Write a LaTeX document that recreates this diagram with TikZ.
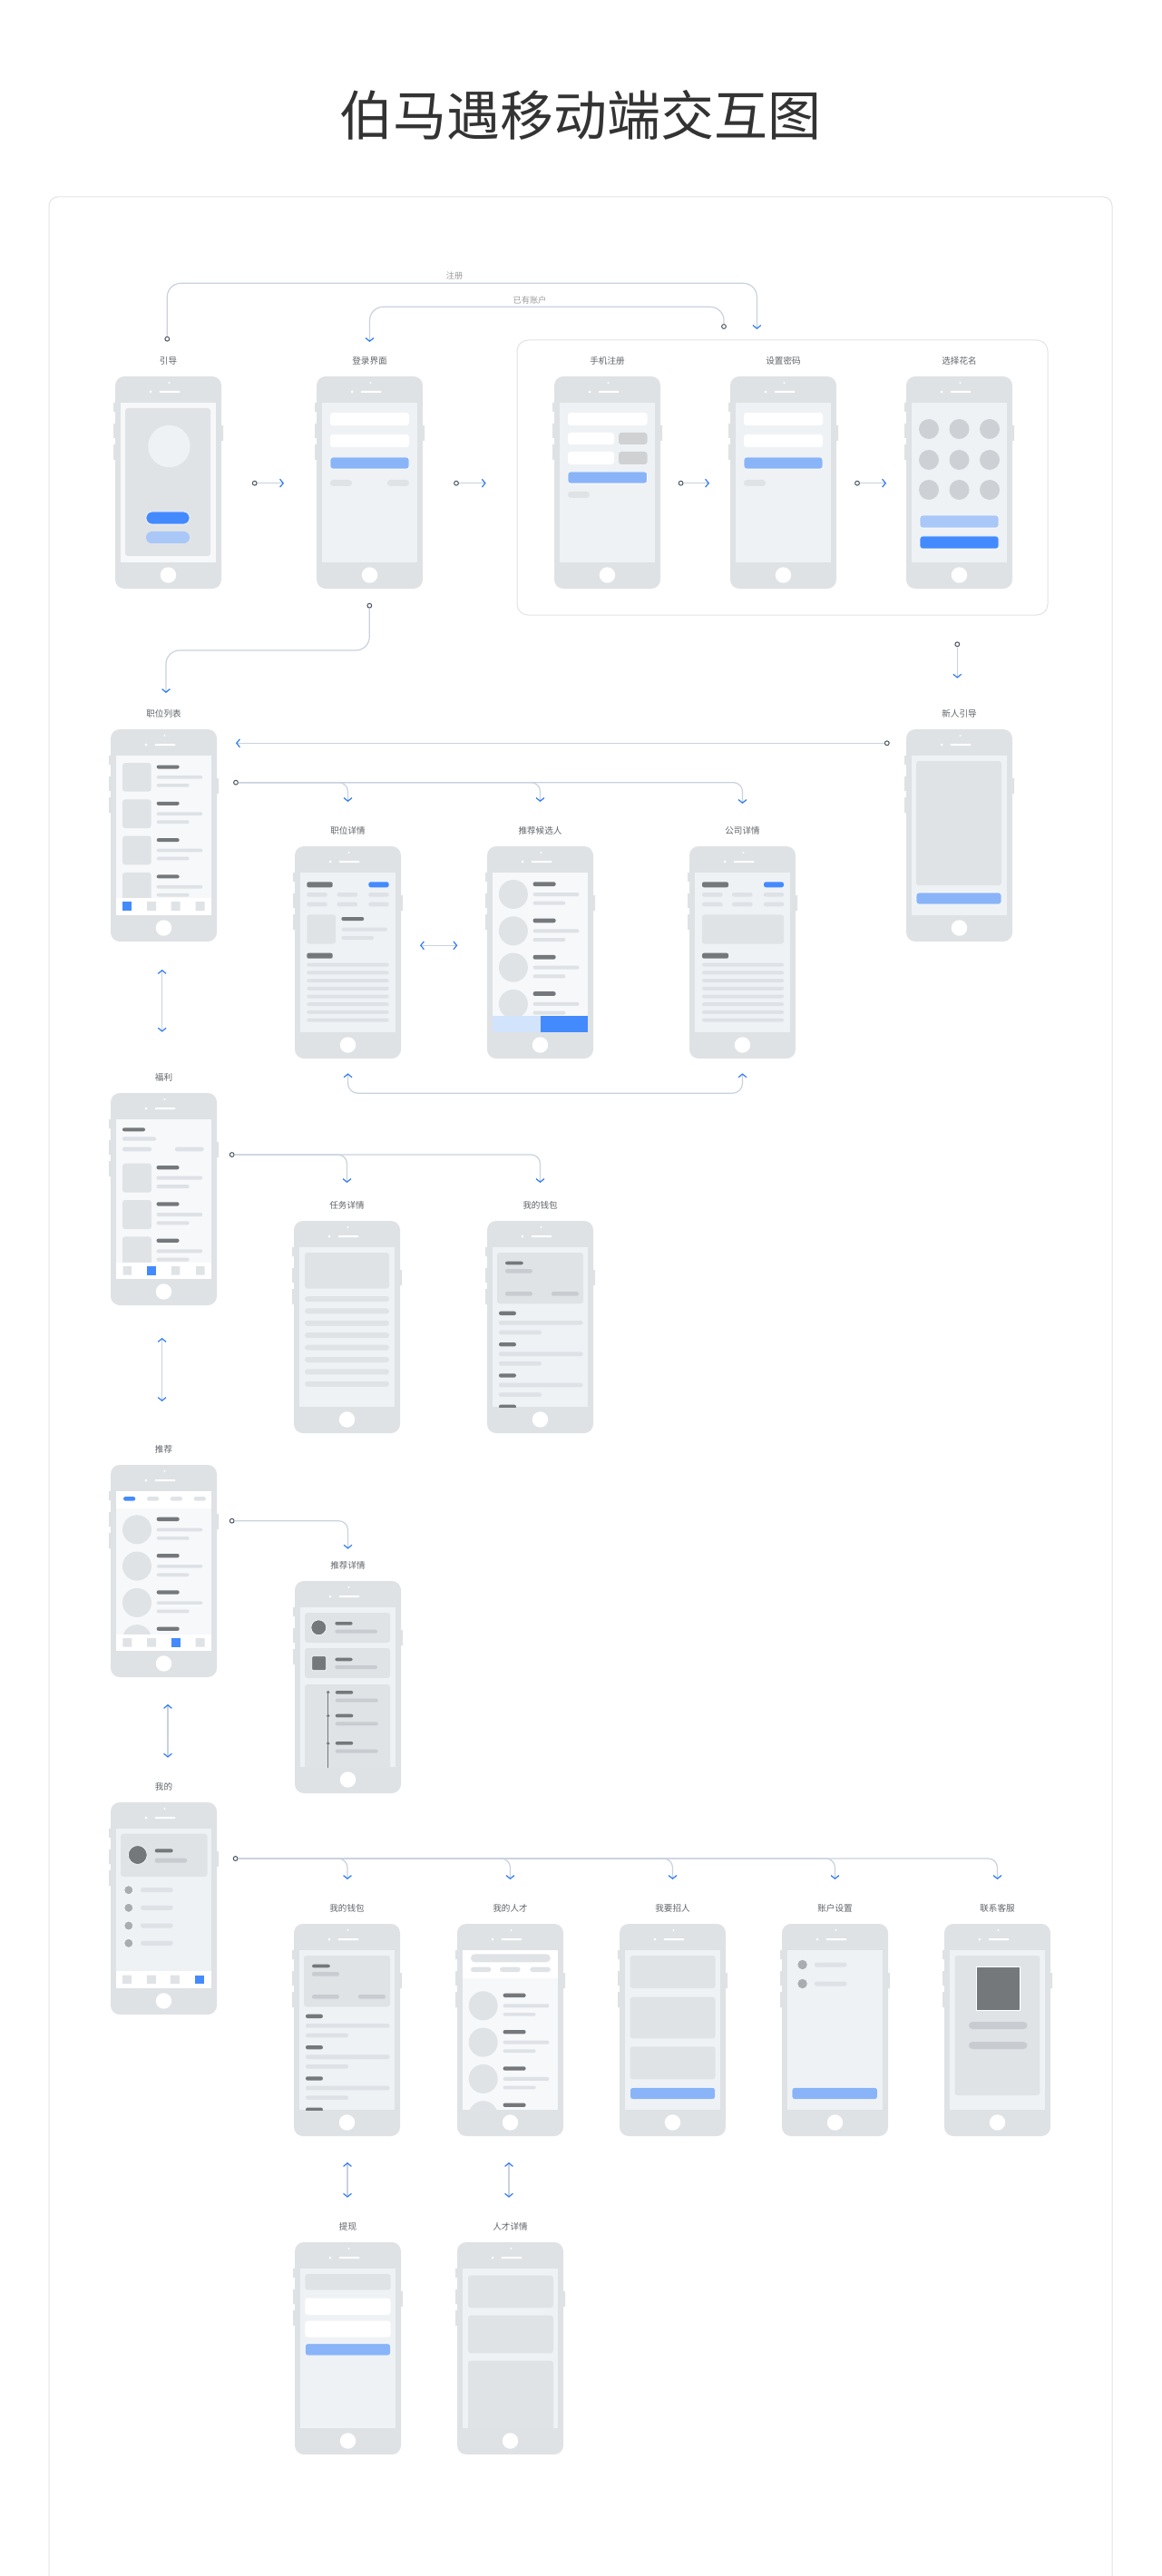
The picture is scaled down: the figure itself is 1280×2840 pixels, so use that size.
\documentclass[tikz,border=0pt]{standalone}
\usepackage{fontspec}
\newfontfamily\cjk{Noto Sans CJK SC}
\usetikzlibrary{arrows.meta,calc}
\definecolor{cbody}{HTML}{DFE2E5}
\definecolor{cscr}{HTML}{EFF2F5}
\definecolor{cscrl}{HTML}{F6F8FA}
\definecolor{ccard}{HTML}{E0E3E6}
\definecolor{cdk}{HTML}{75787B}
\definecolor{clt}{HTML}{DEE1E5}
\definecolor{cmd}{HTML}{C8CBCF}
\definecolor{cgc}{HTML}{CDD0D4}
\definecolor{cmc}{HTML}{A9ACB0}
\definecolor{cblue}{HTML}{448AFF}
\definecolor{cbb}{HTML}{8AB4F8}
\definecolor{clb}{HTML}{A9C7F7}
\definecolor{cpb}{HTML}{D2E3FC}
\definecolor{cline}{HTML}{C9D2DE}
\definecolor{cdot}{HTML}{4B5563}
\definecolor{carrow}{HTML}{2F7CF6}
\definecolor{clabel}{HTML}{5F6368}
\definecolor{cclab}{HTML}{9A9A9A}
\definecolor{cframe}{HTML}{E3E3E3}
\definecolor{cfield}{HTML}{CFD1D3}
\definecolor{ctitle}{HTML}{333333}
\tikzset{
  phonebody/.style={rectangle, fill=cbody, minimum width=58.5pt, minimum height=117pt, rounded corners=5pt, inner sep=0pt, outer sep=0pt},
  phlabel/.style={font=\cjk\fontsize{4.8pt}{5.5pt}\selectfont, text=clabel, inner sep=0pt},
  clab/.style={font=\cjk\fontsize{4.6pt}{5.5pt}\selectfont, text=cclab, inner sep=0pt},
  dkp/.style={fill=cdk, rounded corners=1pt},
  ltp/.style={fill=clt, rounded corners=1pt},
  mdp/.style={fill=cmd, rounded corners=1pt},
  card/.style={fill=ccard, rounded corners=1.5pt},
  wf/.style={fill=white, rounded corners=1.5pt},
  bb/.style={fill=cbb, draw=white, line width=0.3pt, rounded corners=1.5pt},
  conn/.style={draw=cline, line width=0.6pt, rounded corners=5pt},
  dotn/.style={circle, draw=cdot, fill=white, line width=0.5pt, minimum size=2.4pt, inner sep=0pt},
}
\newcommand\mkphone[6]{%
\begin{scope}[shift={(#2,#3)}]
\fill[cbody] (-2,29) rectangle (1,39) (-2,52) rectangle (1,68) (-2,75) rectangle (1,92) (116,54) rectangle (119,71);
\node[phonebody] (#1) at (58.5,117) {};
\fill[#4] (6,29) rectangle (111,205);
\begin{scope}\clip (6,29) rectangle (111,205);
#6
\end{scope}
\fill[white] (59.5,7) circle (0.6pt) (39,17) circle (0.75pt);
\fill[white, rounded corners=0.5pt] (48.5,16) rectangle (71.5,18);
\fill[white] (58.5,219) circle (4.35pt);
\node[phlabel] (#1l) at (58.5,-17.5) {#5};
\end{scope}}
\newcommand\walletcontent{%
\fill[card] (11,35) rectangle (106,91.3);
\fill[dkp] (20,44.7) rectangle (39.8,48.3);
\fill[mdp] (20,53) rectangle (49.8,57.7);
\fill[mdp] (20,78) rectangle (49.8,82.7);
\fill[mdp] (71,78) rectangle (100.9,82.7);
\foreach \y in {99.7,134,168.3,202.6}{
 \fill[dkp] (13,\y) rectangle (31.9,\y+4.3);
 \fill[ltp] (13,\y+10.3) rectangle (105.5,\y+15);
 \fill[ltp] (13,\y+21) rectangle (59.8,\y+25.6);}
}
\begin{document}
\begin{tikzpicture}[x=0.5pt,y=-0.5pt,
  >={Straight Barb[length=1.8pt,width=4.4pt,line width=0.6pt,color=carrow]}]
\path[use as bounding box] (0,0) rectangle (1280,2840);
\clip (0,0) rectangle (1280,2840);
\fill[white] (0,0) rectangle (1280,2840);
\node[font=\cjk\fontsize{29.5pt}{31pt}\selectfont, text=ctitle, inner sep=0pt] (title) at (640,127) {伯马遇移动端交互图};
\draw[cframe, line width=0.5pt, rounded corners=5pt] (54,217) rectangle (1226,2950);
\draw[cframe, line width=0.5pt, rounded corners=6pt] (570,375) rectangle (1155,678);

% ---------- row 1
\mkphone{guide}{127}{415}{cscrl}{引导}{
\fill[card] (11,35) rectangle (105,198);
\fill[cscr] (59.5,77) circle (11.6pt);
\filldraw[fill=cblue, draw=white, line width=0.3pt, rounded corners=3.4pt] (34,149) rectangle (82,163);
\fill[clb, rounded corners=3.2pt] (34,171) rectangle (82,184);
}
\mkphone{login}{349}{415}{cscr}{登录界面}{
\fill[wf] (15,40) rectangle (102,54);
\fill[wf] (15,64) rectangle (102,78);
\filldraw[bb] (15,89) rectangle (102,102);
\fill[card, rounded corners=1.7pt] (15,114) rectangle (39,121);
\fill[card, rounded corners=1.7pt] (78,114) rectangle (102,121);
}
\mkphone{reg}{611}{415}{cscr}{手机注册}{
\fill[wf] (15,40) rectangle (102.5,54);
\fill[wf] (15,62) rectangle (66,75);
\fill[cfield, rounded corners=1.5pt] (71,62) rectangle (102.5,75);
\fill[wf] (15,83) rectangle (66,97);
\fill[cfield, rounded corners=1.5pt] (71,83) rectangle (102.5,97);
\filldraw[bb] (15,105) rectangle (102.5,118);
\fill[card, rounded corners=1.7pt] (15,127) rectangle (39,134);
}
\mkphone{pwd}{805}{415}{cscr}{设置密码}{
\fill[wf] (15,40) rectangle (102,54);
\fill[wf] (15,64) rectangle (102,78);
\filldraw[bb] (15,89) rectangle (102,102);
\fill[card, rounded corners=1.7pt] (15,114) rectangle (39,121);
}
\mkphone{nick}{999}{415}{cscr}{选择花名}{
\foreach \x in {25,58.5,92}{\foreach \y in {58,92,125}{\fill[cgc] (\x,\y) circle (5.5pt);}}
\filldraw[fill=clb, draw=white, line width=0.3pt, rounded corners=1.5pt] (15,153) rectangle (102,167);
\filldraw[fill=cblue, draw=white, line width=0.3pt, rounded corners=1.5pt] (15,176) rectangle (102,190);
}

% ---------- row 2
\mkphone{joblist}{122}{804}{cscrl}{职位列表}{
\foreach \y in {37,77.3,117.6,157.9}{
 \fill[card] (13,\y) rectangle (44.7,\y+31.7);
 \fill[dkp] (50.7,\y+2.5) rectangle (75.7,\y+6.5);
 \fill[ltp] (50.7,\y+14) rectangle (101.3,\y+17.7);
 \fill[ltp] (50.7,\y+23) rectangle (86.7,\y+26.7);}
\fill[white] (6,186) rectangle (111,205);
\fill[cblue] (13,190) rectangle (23.3,200);
\fill[ccard] (40,190) rectangle (50,200) (66.7,190) rectangle (76.7,200) (93.7,190) rectangle (103.7,200);
}
\mkphone{newguide}{999}{804}{cscr}{新人引导}{
\fill[card] (11,35) rectangle (105,172);
\filldraw[bb] (11,180) rectangle (105,193);
}
\mkphone{jobdetail}{325}{933}{cscr}{职位详情}{
\fill[dkp] (13.3,39.3) rectangle (41.7,45.3);
\fill[cblue, rounded corners=1.2pt] (81.3,39.3) rectangle (103.7,45.3);
\foreach \y in {51,61.7}{\fill[ltp] (13.3,\y) rectangle (35.7,\y+4.7); \fill[ltp] (46.7,\y) rectangle (69,\y+4.7); \fill[ltp] (81.3,\y) rectangle (103.7,\y+4.7);}
\fill[card] (13.3,75.3) rectangle (45,107.7);
\fill[dkp] (51.3,78) rectangle (76.3,82);
\fill[ltp] (51.3,89.7) rectangle (102,93.7);
\fill[ltp] (51.3,99) rectangle (87,103);
\fill[dkp] (13.3,117.7) rectangle (41.7,123.7);
\foreach \k in {0,...,7}{\fill[ltp] (13.3,128.7+8.7*\k) rectangle (103.7,132.7+8.7*\k);}
}
\mkphone{cand}{537}{933}{cscrl}{推荐候选人}{
\foreach \y in {37,77.3,117.6,157.9}{
 \fill[ccard] (28.9,\y+16) circle (8pt);
 \fill[dkp] (50.6,\y+2.3) rectangle (75.6,\y+7);
 \fill[ltp] (50.6,\y+14) rectangle (101.5,\y+18);
 \fill[ltp] (50.6,\y+23.7) rectangle (86.3,\y+27.7);}
\fill[cpb] (6,186.7) rectangle (58.5,205);
\fill[cblue] (58.5,186.7) rectangle (111,205);
}
\mkphone{company}{760}{933}{cscr}{公司详情}{
\fill[dkp] (14,39.3) rectangle (43,45.3);
\fill[cblue, rounded corners=1.2pt] (82,39.3) rectangle (104,45.3);
\foreach \y in {51,61.7}{\fill[ltp] (14,\y) rectangle (36.5,\y+4.7); \fill[ltp] (47,\y) rectangle (69.5,\y+4.7); \fill[ltp] (82,\y) rectangle (104,\y+4.7);}
\fill[card] (14,75.3) rectangle (104,107.7);
\fill[dkp] (14,117.7) rectangle (43,123.7);
\foreach \k in {0,...,7}{\fill[ltp] (14,128.7+8.7*\k) rectangle (104,132.7+8.7*\k);}
}

% ---------- row 3
\mkphone{welfare}{122}{1205}{cscrl}{福利}{
\fill[dkp] (13,38.3) rectangle (38,42.3);
\fill[ltp] (13,48.3) rectangle (50,52.7);
\fill[ltp] (13,59.7) rectangle (45,64.3);
\fill[ltp] (71,59.7) rectangle (102.6,64.3);
\foreach \y in {77.7,118,158.3}{
 \fill[card] (13,\y) rectangle (45,\y+32);
 \fill[dkp] (50.5,\y+2.3) rectangle (75.5,\y+6.6);
 \fill[ltp] (50.5,\y+14) rectangle (101.2,\y+18);
 \fill[ltp] (50.5,\y+23.3) rectangle (86.6,\y+27.3);}
\fill[white] (6,186.7) rectangle (111,205);
\fill[ccard] (13.6,191) rectangle (23.2,200.7) (66.8,191) rectangle (76.4,200.7) (94,191) rectangle (103.7,200.7);
\fill[cblue] (40.4,191) rectangle (50,200.7);
}
\mkphone{task}{324}{1346}{cscr}{任务详情}{
\fill[card] (12,35) rectangle (105,74.7);
\foreach \k in {0,...,7}{\fill[card, rounded corners=1.5pt] (12,83+13.4*\k) rectangle (105,89+13.4*\k);}
}
\mkphone{wallet}{537}{1346}{cscr}{我的钱包}{\walletcontent}

% ---------- row 4
\mkphone{rec}{122}{1615}{cscrl}{推荐}{
\fill[white] (6,28.7) rectangle (111,48.3);
\fill[cblue, rounded corners=1.2pt] (14,35) rectangle (27.3,39.7);
\fill[ccard, rounded corners=1.2pt] (40,35) rectangle (53.3,39.7) (65.7,35) rectangle (79,39.7) (91.7,35) rectangle (105,39.7);
\foreach \y in {55.3,95.6,135.9,176.2}{
 \fill[ccard] (29,\y+16) circle (8pt);
 \fill[dkp] (50.7,\y+2.4) rectangle (75.7,\y+6.7);
 \fill[ltp] (50.7,\y+14.4) rectangle (101.3,\y+18);
 \fill[ltp] (50.7,\y+23.7) rectangle (86.7,\y+27.4);}
\fill[white] (6,187) rectangle (111,205);
\fill[ccard] (13.3,191) rectangle (23.3,200.7) (40,191) rectangle (50,200.7) (93.7,191) rectangle (103.7,200.7);
\fill[cblue] (66.7,191) rectangle (76.7,200.7);
}
\mkphone{recdetail}{325}{1743}{cscr}{推荐详情}{
\fill[card] (11,35) rectangle (105,68);
\filldraw[fill=cdk, draw=white, line width=0.3pt] (26.3,51.3) circle (4.2pt);
\fill[dkp] (44.3,45) rectangle (63.7,48.7);
\fill[mdp] (44.3,53.7) rectangle (91,57.7);
\fill[card] (11,74) rectangle (105,107);
\filldraw[fill=cdk, draw=white, line width=0.3pt, rounded corners=1pt] (18.7,82.7) rectangle (34.7,98.7);
\fill[dkp] (44.3,84.7) rectangle (63.7,88.3);
\fill[mdp] (44.3,93) rectangle (91,97);
\fill[card] (11,114) rectangle (105,220);
\draw[cdk, line width=0.3pt] (36.7,122.7) -- (36.7,206);
\foreach \y in {122.7,148.7,179}{\fill[cdk] (36.7,\y) circle (0.9pt);}
\foreach \y in {121,146.7,177}{\fill[dkp] (44.7,\y) rectangle (64.3,\y+3.7); \fill[mdp] (44.7,\y+8.7) rectangle (91.7,\y+12.7);}
}

% ---------- row 5
\mkphone{mine}{122}{1987}{cscr}{我的}{
\fill[card] (11,34.7) rectangle (106.6,82);
\filldraw[fill=cdk, draw=white, line width=0.3pt] (29.8,58) circle (5.2pt);
\fill[dkp] (48.7,51.3) rectangle (68.7,55.3);
\fill[mdp] (48.7,61.7) rectangle (84,66.7);
\foreach \y in {96.7,116.3,136,155.3}{
 \filldraw[fill=cmc, draw=white, line width=0.3pt] (19.8,\y) circle (2.5pt);
 \fill[ltp, rounded corners=1.2pt] (33,\y-2.5) rectangle (68.7,\y+2.5);}
\fill[white] (6,186.3) rectangle (111,205);
\fill[ccard] (13,190.7) rectangle (23,200) (39.8,190.7) rectangle (49.8,200) (65.9,190.7) rectangle (75.9,200);
\fill[cblue] (93,190.7) rectangle (103,200);
}
\mkphone{wallet2}{324}{2121}{cscr}{我的钱包}{\walletcontent}
\mkphone{talent}{504}{2121}{cscrl}{我的人才}{
\fill[white] (6,28.3) rectangle (111,59.7);
\fill[ccard, rounded corners=2.2pt] (15,33.3) rectangle (102.8,42.3);
\fill[ccard, rounded corners=1.3pt] (15,47.7) rectangle (37.4,53) (47,47.7) rectangle (69.6,53) (80.3,47.7) rectangle (102.8,53);
\foreach \y in {74.3,114.6,154.9,195.2}{
 \fill[ccard] (28.7,\y+16) circle (8pt);
 \fill[dkp] (50.6,\y+2.4) rectangle (75.6,\y+6.7);
 \fill[ltp] (50.6,\y+14) rectangle (101.4,\y+18);
 \fill[ltp] (50.6,\y+23.7) rectangle (86.7,\y+27.4);}
}
\mkphone{hire}{683}{2121}{cscr}{我要招人}{
\fill[card] (11.6,35) rectangle (105.6,71);
\fill[card] (11.6,80.6) rectangle (105.6,126.3);
\fill[card] (11.6,135.3) rectangle (105.6,171.3);
\filldraw[bb] (11.6,180.3) rectangle (105.6,193.6);
}
\mkphone{account}{862}{2121}{cscr}{账户设置}{
\foreach \y in {45,66}{
 \fill[cmc] (22.6,\y) circle (2.6pt);
 \fill[ltp, rounded corners=1.2pt] (35.9,\y-2.5) rectangle (71.6,\y+2.5);}
\filldraw[bb] (11,180.3) rectangle (105.4,193.6);
}
\mkphone{service}{1041}{2121}{cscr}{联系客服}{
\fill[card] (11.5,35) rectangle (105.4,189);
\filldraw[fill=cdk, draw=white, line width=0.4pt] (35,47) rectangle (83.3,95);
\fill[cmd, rounded corners=2pt] (27,108) rectangle (91.5,116);
\fill[cmd, rounded corners=2pt] (27,130) rectangle (91.5,138);
}

% ---------- row 6
\mkphone{withdraw}{325}{2472}{cscr}{提现}{
\fill[card] (11.3,35) rectangle (105.6,52.7);
\fill[wf] (11.3,61.7) rectangle (105.6,80);
\fill[wf] (11.3,86.7) rectangle (105.6,104.7);
\filldraw[bb] (11.3,111.7) rectangle (105.6,125);
}
\mkphone{talentd}{504}{2472}{cscr}{人才详情}{
\fill[card] (12,36.7) rectangle (106,72.3);
\fill[card] (12,80.7) rectangle (106,122.3);
\fill[card] (12,130.7) rectangle (106,220);
}

% ---------- connectors
\node[dotn] (d-reg) at (184.3,373.7) {};
\coordinate (t-reg) at (834.4,363);
\draw[conn, rounded corners=7.5pt, ->] (d-reg) -- (184.3,312.3) -- (834.4,312.3) -- (t-reg);
\node[clab] (l-reg) at (501,304) {注册};
\node[dotn] (d-has) at (798,360) {};
\coordinate (t-has) at (407.5,377);
\draw[conn, rounded corners=7.5pt, ->] (d-has) -- (798,338.3) -- (407.5,338.3) -- (t-has);
\node[clab] (l-has) at (584,331) {已有账户};

\node[dotn] (d-h1) at (280.7,532.7) {}; \coordinate (t-h1) at (313,532.7);
\draw[conn, ->] (d-h1) -- (t-h1);
\node[dotn] (d-h2) at (503,532.7) {}; \coordinate (t-h2) at (535.7,532.7);
\draw[conn, ->] (d-h2) -- (t-h2);
\node[dotn] (d-h3) at (750.6,532.7) {}; \coordinate (t-h3) at (782,532.7);
\draw[conn, ->] (d-h3) -- (t-h3);
\node[dotn] (d-h4) at (945,532.7) {}; \coordinate (t-h4) at (977,532.7);
\draw[conn, ->] (d-h4) -- (t-h4);

\node[dotn] (d-log) at (407.3,667.7) {}; \coordinate (t-log) at (183,764);
\draw[conn, rounded corners=7.5pt, ->] (d-log) -- (407.3,717) -- (183,717) -- (t-log);

\node[dotn] (d-nick) at (1055.3,710.3) {}; \coordinate (t-nick) at (1055.3,747.7);
\draw[conn, ->] (d-nick) -- (t-nick);

\node[dotn] (d-ng) at (977.8,819.3) {}; \coordinate (t-ng) at (260,819.3);
\draw[conn, ->] (d-ng) -- (t-ng);

\node[dotn] (d-jl) at (260,862.7) {};
\coordinate (t-jd) at (383.5,884); \coordinate (t-cand) at (595.5,884); \coordinate (t-comp) at (818.5,886);
\draw[conn, ->] (d-jl) -| (t-jd);
\draw[conn, ->] (d-jl) -| (t-cand);
\draw[conn, ->] (d-jl) -| (t-comp);

\coordinate (a-jd1) at (463,1042.3); \coordinate (a-jd2) at (504.3,1042.3);
\draw[conn, <->] (a-jd1) -- (a-jd2);

\coordinate (b-jd) at (383.5,1183.3); \coordinate (b-comp) at (818.5,1183.3);
\draw[conn, rounded corners=5.5pt, <->] (b-jd) -- (383.5,1205.3) -- (818.5,1205.3) -- (b-comp);

\coordinate (v1a) at (178.7,1069); \coordinate (v1b) at (178.7,1137.7);
\draw[conn, <->] (v1a) -- (v1b);

\node[dotn] (d-wf) at (255.7,1273) {};
\coordinate (t-task) at (382.5,1304); \coordinate (t-wal) at (595.5,1304);
\draw[conn, ->] (d-wf) -| (t-task);
\draw[conn, ->] (d-wf) -| (t-wal);

\coordinate (v2a) at (178.6,1475); \coordinate (v2b) at (178.6,1545);
\draw[conn, <->] (v2a) -- (v2b);

\node[dotn] (d-rec) at (255.7,1676.7) {}; \coordinate (t-recd) at (383.5,1707.7);
\draw[conn, ->] (d-rec) -| (t-recd);

\coordinate (v3a) at (185,1879); \coordinate (v3b) at (185,1937.7);
\draw[conn, <->] (v3a) -- (v3b);

\node[dotn] (d-mine) at (259.6,2049) {};
\foreach \n/\x in {m1/383,m2/562.5,m3/741.5,m4/920.5,m5/1099.5}{
  \coordinate (t-\n) at (\x,2072);
  \draw[conn, ->] (d-mine) -| (t-\n);}

\coordinate (v4a) at (383,2384); \coordinate (v4b) at (383,2422.7);
\draw[conn, <->] (v4a) -- (v4b);
\coordinate (v5a) at (561,2384); \coordinate (v5b) at (561,2422.7);
\draw[conn, <->] (v5a) -- (v5b);
\end{tikzpicture}
\end{document}
